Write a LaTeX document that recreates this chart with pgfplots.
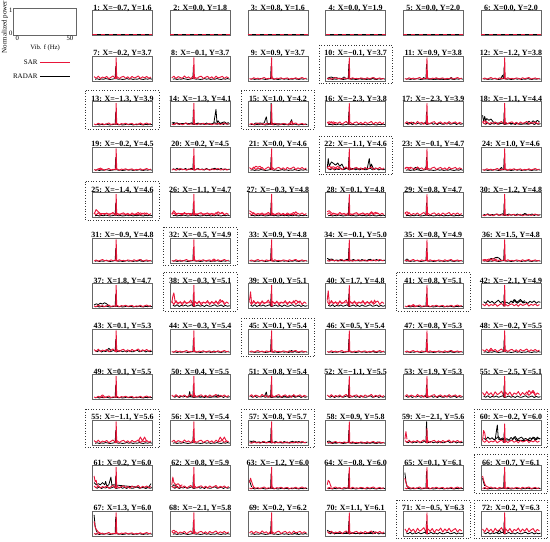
\documentclass[border=0pt]{standalone}
\usepackage{fontspec}
\setmainfont{Liberation Serif}
\usepackage{pgfplots}
\pgfplotsset{compat=1.18}
\definecolor{rcol}{RGB}{232,22,58}
\definecolor{kcol}{RGB}{0,0,0}
% noise floors (x = vibration frequency in Hz, y = normalized power)
\def\RL{(0,.05)(2,.02)(4,.09)(6,.04)(8,.07)(10,.02)(12,.06)(14,.10)(16,.03)(18,.06)(20,.04)(22,.08)(24,.02)(26,.07)(28,.05)(30,.09)(32,.03)(34,.06)(36,.08)(38,.02)(40,.06)(42,.04)(44,.09)(46,.03)(48,.06)(50,.10)(52,.04)(54,.07)}
\def\RLb{(0,.03)(2,.08)(4,.02)(6,.06)(8,.10)(10,.04)(12,.07)(14,.02)(16,.08)(18,.05)(20,.07)(22,.02)(24,.09)(26,.04)(28,.06)(30,.03)(32,.08)(34,.06)(36,.02)(38,.09)(40,.04)(42,.07)(44,.10)(46,.03)(48,.05)(50,.08)(52,.03)(54,.06)}
\def\RM{(0,.14)(2,.06)(4,.16)(6,.05)(8,.12)(10,.08)(12,.15)(14,.04)(16,.11)(18,.17)(20,.06)(22,.13)(24,.05)(26,.12)(28,.15)(30,.06)(32,.13)(34,.04)(36,.15)(38,.08)(40,.11)(42,.17)(44,.05)(46,.13)(48,.08)(50,.15)(52,.06)(54,.12)}
\def\RMb{(0,.08)(2,.16)(4,.05)(6,.14)(8,.1)(10,.06)(12,.17)(14,.08)(16,.13)(18,.04)(20,.15)(22,.1)(24,.06)(26,.13)(28,.16)(30,.05)(32,.11)(34,.15)(36,.06)(38,.13)(40,.04)(42,.16)(44,.08)(46,.11)(48,.15)(50,.06)(52,.13)(54,.08)}
\def\RH{(0,.26)(2,.12)(4,.3)(6,.15)(8,.25)(10,.1)(12,.29)(14,.16)(16,.22)(18,.32)(20,.12)(22,.26)(24,.15)(26,.28)(28,.1)(30,.24)(32,.18)(34,.3)(36,.12)(38,.26)(40,.16)(42,.29)(44,.13)(46,.22)(48,.28)(50,.12)(52,.24)(54,.17)}
\def\KL{(1,.02)(3,.04)(5,.01)(7,.03)(9,.02)(11,.05)(13,.03)(15,.01)(17,.02)(19,.04)(21,.05)(23,.02)(25,.03)(27,.01)(29,.02)(31,.05)(33,.02)(35,.04)(37,.01)(39,.03)(41,.02)(43,.05)(45,.02)(47,.01)(49,.04)(51,.02)(53,.05)(55,.02)}
\def\KM{(1,.09)(3,.04)(5,.11)(7,.03)(9,.08)(11,.05)(13,.1)(15,.04)(17,.07)(19,.11)(21,.03)(23,.06)(25,.1)(27,.04)(29,.08)(31,.03)(33,.1)(35,.05)(37,.04)(39,.08)(41,.11)(43,.04)(45,.06)(47,.1)(49,.03)(51,.08)(53,.04)(55,.07)}
\def\KH{(1,.25)(3,.18)(5,.3)(7,.2)(9,.27)(11,.17)(13,.24)(15,.32)(17,.2)(19,.26)(21,.19)(23,.23)(25,.16)(27,.28)(29,.2)(31,.33)(33,.18)(35,.25)(37,.3)(39,.19)(41,.24)(43,.17)(45,.27)(47,.21)(49,.29)(51,.18)(53,.25)(55,.22)}
\pgfplotsset{pan/.style={anchor=north west, width=60bp, height=25bp, scale only axis,
  xmin=-1.5, xmax=55.5, ymin=-0.07, ymax=1.07, ticks=none,
  axis line style={black!60, line width=0.6bp},
  title style={font=\bfseries\fontsize{8}{8}\selectfont, at={(0.5,1)}, anchor=base, inner sep=0pt, yshift=-5.5bp},
  every axis plot/.append style={line width=0.8bp, line join=round, mark=none}}}
\newcommand\cplot[2]{\edef\tmpcmd{\noexpand\addplot[\unexpanded{#1}] coordinates {#2};}\tmpcmd}
\newcommand\pan[9]{%
\begin{axis}[pan, at={({(92.5+77.7*#1)*1bp},{-(10.7+45.5*#2)*1bp})}, title={#3}]
\cplot{kcol}{#5}%
\def\tmpx{#7}\ifx\tmpx\empty\else\cplot{kcol}{#7}\fi
\cplot{rcol, line width=0.9bp}{#4}%
\def\tmpx{#6}\ifx\tmpx\empty\else\cplot{rcol, line width=0.9bp}{#6}\fi
\addplot[kcol, line width=0.9bp] coordinates {(20.1,.04)(20.6,#9)(21.1,.04)};
\addplot[rcol, line width=0.9bp] coordinates {(20.5,.04)(21,#8)(21.5,.04)};
\end{axis}}
\newcommand\flp[2]{%
\begin{axis}[pan, at={({(92.5+77.7*#1)*1bp},{-10.7bp})}, title={#2}]
\addplot[kcol] coordinates {(-1.5,0)(55.5,0)};
\addplot[rcol, dash pattern=on 4bp off 4bp] coordinates {(-1.5,0)(55.5,0)};
\end{axis}}
\newcommand\dotbox[2]{\draw[dotted, line width=0.7bp, black!80] ({(92.5+77.7*#1-6.7)*1bp},{-(10.7+45.5*#2-11)*1bp}) rectangle ({(92.5+77.7*#1+66.7)*1bp},{-(10.7+45.5*#2+27.5)*1bp});}
\begin{document}
\begin{tikzpicture}
\useasboundingbox (0,0) rectangle (550bp,-542bp);
% key axis
\begin{axis}[at={(13.5bp,-8.3bp)}, anchor=north west, width=63.2bp, height=26.7bp, scale only axis,
  xmin=-3.6, xmax=56.4, ymin=-0.07, ymax=1.07, xtick={0,50}, ytick={0,1}, major tick length=0pt,
  axis line style={black!60, line width=0.6bp},
  /pgf/number format/assume math mode=true,
  tick label style={font=\fontsize{6.7}{7}\selectfont},
  xticklabel style={inner sep=1pt}, yticklabel style={inner sep=0.8pt},
  xlabel={Vib. f (Hz)}, xlabel style={font=\fontsize{6.7}{7}\selectfont, at={(axis description cs:0.5,-0.476)}, anchor=center},
  ylabel={Normalized power}, ylabel style={font=\fontsize{7}{7}\selectfont, at={(axis description cs:-0.135,0.30)}, anchor=center},
  legend plot pos=right, legend cell align=right,
  legend image code/.code={\draw[#1] (0bp,0bp) -- (30bp,0bp);},
  legend style={draw=none, fill=none, at={(axis description cs:0.905,-0.92)}, anchor=north east,
    font=\fontsize{7}{8}\selectfont, row sep=7.5bp, column sep=2bp, inner sep=0pt,
    nodes={inner sep=0pt, text height=5bp, text depth=1bp}}]
\addlegendimage{rcol, line width=1bp}\addlegendentry{SAR}
\addlegendimage{kcol, line width=1bp}\addlegendentry{RADAR}
\end{axis}
% row 1
\flp{0}{1: X=−0.7, Y=1.6}
\flp{1}{2: X=0.0, Y=1.8}
\flp{2}{3: X=0.8, Y=1.6}
\flp{3}{4: X=0.0, Y=1.9}
\flp{4}{5: X=0.0, Y=2.0}
\flp{5}{6: X=0.0, Y=2.0}
% row 2
\pan{0}{1}{7: X=−0.2, Y=3.7}{\RM}{\KL}{}{}{1}{.6}
\pan{1}{1}{8: X=−0.1, Y=3.7}{\RMb}{\KL}{}{}{1}{.6}
\pan{2}{1}{9: X=0.9, Y=3.7}{\RL}{\KL}{}{}{1}{.6}
\pan{3}{1}{10: X=−0.1, Y=3.7}{\RLb}{\KL}{}{(0,.05)(2,.1)(4,.12)(6,.08)(8,.1)(10,.07)(12,.04)(14,.05)(16,.12)(18,.05)(40,.03)(42,.03)(44,.09)(46,.03)}{1}{.7}
\pan{4}{1}{11: X=0.9, Y=3.8}{\RL}{\KL}{}{(16,.02)(18,.1)(19,.03)(42,.02)(44,.1)(46,.02)}{1}{.7}
\pan{5}{1}{12: X=−1.2, Y=3.8}{\RLb}{\KL}{}{(17,.03)(19,.2)(20,.05)}{1}{.6}
% row 3
\pan{0}{2}{13: X=−1.3, Y=3.9}{\RL}{\KL}{(42,.04)(44,.1)(46,.05)}{}{1}{.6}
\pan{1}{2}{14: X=−1.3, Y=4.1}{\RL}{\KM}{}{(0,.1)(2,.12)(4,.08)(38,.05)(40,.1)(42,.72)(43,.08)(44,.2)(46,.06)(48,.12)(50,.15)(52,.08)(54,.12)}{1}{.7}
\pan{2}{2}{15: X=1.0, Y=4.2}{\RLb}{\KL}{(38,.03)(40,.18)(42,.03)}{(4,.04)(6,.1)(8,.06)(10,.1)(12,.08)(14,.1)(16,.38)(17,.08)(38,.04)(40,.25)(41,.05)}{.95}{1}
\pan{3}{2}{16: X=−2.3, Y=3.8}{\RM}{\KL}{(0,.1)(2,.16)(4,.1)(6,.15)(8,.09)}{}{1}{.6}
\pan{4}{2}{17: X=−2.3, Y=3.9}{\RMb}{\KM}{}{(2,.05)(4,.12)(6,.08)(8,.13)(10,.06)}{1}{.6}
\pan{5}{2}{18: X=−1.1, Y=4.4}{\RM}{\KM}{(0,.15)(2,.2)(4,.12)}{(0,.45)(1,.15)(2,.4)(3,.2)(4,.3)(6,.22)(8,.28)(10,.15)(12,.1)(40,.05)(42,.06)(44,.18)(46,.1)(48,.2)(50,.12)(52,.22)(54,.15)}{1}{.6}
% row 4
\pan{0}{3}{19: X=−0.2, Y=4.5}{\RL}{\KL}{(4,.06)(6,.12)(8,.06)}{}{1}{.6}
\pan{1}{3}{20: X=0.2, Y=4.5}{\RLb}{\KM}{}{}{1}{.6}
\pan{2}{3}{21: X=0.0, Y=4.6}{\RM}{\KL}{(4,.1)(6,.2)(8,.16)(10,.2)(12,.1)}{}{1}{.6}
\pan{3}{3}{22: X=−1.1, Y=4.6}{\RM}{\KM}{(0,.15)(2,.2)(4,.15)(6,.18)(8,.12)(10,.2)(12,.12)}{(0,.1)(1,.55)(2,.2)(4,.4)(6,.33)(8,.25)(10,.35)(12,.2)(14,.3)(16,.1)(38,.08)(40,.55)(41,.1)(42,.3)(44,.08)}{1}{.6}
\pan{4}{3}{23: X=−0.1, Y=4.7}{\RMb}{\KL}{(0,.12)(2,.15)(4,.13)(6,.16)}{(8,.05)(10,.15)(12,.12)(14,.05)}{1}{.6}
\pan{5}{3}{24: X=1.0, Y=4.6}{\RL}{\KL}{}{(16,.05)(18,.15)(19,.05)}{1}{.6}
% row 5
\pan{0}{4}{25: X=−1.4, Y=4.6}{\RM}{\KL}{(0,.1)(2,.3)(4,.2)(6,.12)(42,.08)(44,.15)(46,.1)(48,.15)(50,.08)}{}{1}{.6}
\pan{1}{4}{26: X=−1.1, Y=4.7}{\RMb}{\KL}{(0,.1)(2,.25)(4,.12)(42,.1)(44,.2)(46,.12)(48,.18)(50,.08)}{}{1}{.6}
\pan{2}{4}{27: X=−0.3, Y=4.8}{\RM}{\KL}{(0,.25)(2,.18)(4,.1)(42,.08)(44,.2)(46,.1)}{}{1}{.6}
\pan{3}{4}{28: X=0.1, Y=4.8}{\RMb}{\KL}{(0,.2)(2,.25)(4,.15)(6,.1)(40,.1)(42,.2)(44,.12)(46,.18)(48,.1)}{}{1}{.6}
\pan{4}{4}{29: X=0.8, Y=4.7}{\RM}{\KL}{(0,.15)(2,.2)(4,.1)}{}{1}{.6}
\pan{5}{4}{30: X=−1.2, Y=4.8}{\RL}{\KM}{}{(38,.05)(40,.12)(42,.05)}{1}{.6}
% row 6
\pan{0}{5}{31: X=−0.9, Y=4.8}{\RLb}{\KL}{}{(42,.04)(44,.1)(46,.04)}{1}{.6}
\pan{1}{5}{32: X=−0.5, Y=4.9}{\RL}{\KL}{(38,.05)(40,.12)(42,.05)}{}{1}{.6}
\pan{2}{5}{33: X=0.9, Y=4.8}{\RLb}{\KL}{}{}{1}{.6}
\pan{3}{5}{34: X=−0.1, Y=5.0}{\RL}{\KM}{}{(0,.15)(2,.1)(4,.12)(6,.05)(38,.04)(40,.1)(42,.04)}{1}{.6}
\pan{4}{5}{35: X=0.8, Y=4.9}{\RLb}{\KL}{}{(0,.05)(2,.12)(4,.05)}{1}{.6}
\pan{5}{5}{36: X=1.5, Y=4.8}{\RLb}{\KL}{(0,.08)(2,.1)(4,.08)(6,.12)(8,.1)(10,.14)(12,.1)(14,.12)}{(6,.05)(8,.15)(10,.12)(12,.18)(14,.2)(16,.15)(18,.05)}{1}{.6}
% row 7
\pan{0}{6}{37: X=1.8, Y=4.7}{\RL}{\KL}{}{(0,.1)(2,.15)(4,.12)(6,.18)(8,.14)(10,.2)(12,.15)(14,.05)}{1}{.6}
\pan{1}{6}{38: X=−0.3, Y=5.1}{\RH}{\KM}{(0,.2)(1,.5)(2,.65)(3,.3)(4,.2)(44,.2)(46,.35)(47,.25)(48,.3)(50,.2)}{}{1}{.6}
\pan{2}{6}{39: X=0.0, Y=5.1}{\RH}{\KM}{(0,.3)(1,.7)(2,.2)(42,.2)(44,.32)(46,.25)(48,.18)}{}{1}{.6}
\pan{3}{6}{40: X=1.7, Y=4.8}{\RH}{\KM}{(0,.3)(1,.75)(2,.2)(44,.2)(45,.32)(46,.22)}{}{1}{.6}
\pan{4}{6}{41: X=0.8, Y=5.1}{\RL}{\KL}{(6,.05)(8,.12)(10,.05)}{}{1}{.6}
\pan{5}{6}{42: X=−2.1, Y=4.9}{\RM}{\KH}{}{(28,.2)(30,.35)(32,.2)(36,.35)(38,.2)(40,.3)}{1}{.6}
% row 8
\pan{0}{7}{43: X=0.1, Y=5.3}{\RM}{\KM}{}{(12,.08)(14,.2)(16,.1)}{1}{.6}
\pan{1}{7}{44: X=−0.3, Y=5.4}{\RL}{\KL}{}{(38,.03)(40,.08)(42,.03)}{1}{.6}
\pan{2}{7}{45: X=0.1, Y=5.4}{\RLb}{\KL}{}{(38,.03)(40,.1)(42,.03)}{1}{.6}
\pan{3}{7}{46: X=0.5, Y=5.4}{\RL}{\KL}{}{(42,.03)(44,.08)(46,.03)}{1}{.6}
\pan{4}{7}{47: X=0.8, Y=5.3}{\RLb}{\KL}{}{(42,.03)(44,.1)(46,.03)}{1}{.6}
\pan{5}{7}{48: X=−0.2, Y=5.5}{\RM}{\KL}{(6,.08)(8,.2)(10,.08)}{}{1}{.6}
% row 9
\pan{0}{8}{49: X=0.1, Y=5.5}{\RL}{\KL}{(6,.06)(8,.15)(10,.06)}{}{1}{.6}
\pan{1}{8}{50: X=0.4, Y=5.5}{\RM}{\KM}{}{(16,.05)(17,.3)(18,.05)(42,.05)(44,.15)(46,.05)}{1}{.6}
\pan{2}{8}{51: X=0.8, Y=5.4}{\RMb}{\KM}{}{(14,.05)(16,.28)(17,.05)(40,.05)(42,.12)(44,.05)}{1}{.6}
\pan{3}{8}{52: X=−1.1, Y=5.5}{\RM}{\KM}{}{}{1}{.6}
\pan{4}{8}{53: X=1.9, Y=5.3}{\RMb}{\KM}{}{}{1}{.6}
\pan{5}{8}{55: X=−2.5, Y=5.1}{\RH}{\KM}{(42,.15)(44,.35)(46,.25)(48,.35)(50,.2)}{}{1}{.6}
% row 10
\pan{0}{9}{55: X=−1.1, Y=5.6}{\RM}{\KL}{(42,.1)(44,.3)(46,.12)(48,.3)(50,.1)}{}{1}{.6}
\pan{1}{9}{56: X=1.9, Y=5.4}{\RMb}{\KL}{(44,.1)(46,.3)(48,.15)(50,.3)(52,.1)}{}{1}{.6}
\pan{2}{9}{57: X=0.8, Y=5.7}{\RL}{\KM}{}{(0,.12)(2,.1)(4,.12)(6,.06)(42,.04)(44,.1)(46,.04)}{1}{.7}
\pan{3}{9}{58: X=0.9, Y=5.8}{\RLb}{\KL}{}{(0,.1)(2,.12)(4,.06)(46,.04)(48,.08)(50,.04)}{1}{.6}
\pan{4}{9}{59: X=−2.1, Y=5.6}{\RM}{\KM}{(0,.2)(1,.55)(2,.2)}{}{.7}{1}
\pan{5}{9}{60: X=−0.2, Y=6.0}{\RM}{\KH}{(0,.15)(1,.6)(2,.5)(3,.2)}{(12,.2)(14,.85)(15,.2)(28,.15)(30,.3)(32,.15)(46,.15)(48,.3)(50,.15)(52,.3)(54,.2)}{.9}{.5}
% row 11
\pan{0}{10}{61: X=0.2, Y=6.0}{\RM}{\KM}{(0,.6)(1,.35)(2,.4)(3,.15)}{(0,.3)(2,.2)(4,.25)(6,.2)(8,.3)(10,.2)(11,.35)(12,.15)(14,.2)(16,.55)(17,.15)(18,.2)(50,.05)(52,.1)(54,.25)}{1}{.6}
\pan{1}{10}{62: X=0.8, Y=5.9}{\RM}{\KM}{(0,.2)(1,.55)(2,.3)(4,.2)(6,.25)(8,.15)(10,.2)}{(0,.1)(2,.2)(4,.15)(6,.1)}{1}{.6}
\pan{2}{10}{63: X=−1.2, Y=6.0}{\RL}{\KL}{(0,.3)(1,.5)(2,.35)(3,.2)(4,.1)}{(0,.4)(1,.25)(2,.1)}{1}{.7}
\pan{3}{10}{64: X=−0.8, Y=6.0}{\RLb}{\KL}{(0,.2)(1,.4)(2,.35)(3,.2)(4,.08)}{}{1}{.7}
\pan{4}{10}{65: X=0.1, Y=6.1}{\RL}{\KL}{(0,.5)(1,.3)(2,.15)(4,.08)}{(0,.75)(1,.35)(2,.12)(4,.05)}{1}{.8}
\pan{5}{10}{66: X=0.7, Y=6.1}{\RLb}{\KL}{(0,.6)(1,.4)(2,.25)(3,.15)(4,.12)(6,.08)}{(0,.5)(1,.3)(2,.15)}{1}{.7}
% row 12
\pan{0}{11}{67: X=1.3, Y=6.0}{\RL}{\KL}{(0,.6)(1,.35)(2,.25)(4,.12)(6,.08)}{(0,.9)(1,.4)(2,.2)(3,.1)}{1}{.8}
\pan{1}{11}{68: X=−2.1, Y=5.8}{\RM}{\KL}{(0,.15)(2,.2)(4,.12)}{}{1}{.6}
\pan{2}{11}{69: X=0.2, Y=6.2}{\RMb}{\KL}{}{(42,.04)(44,.1)(46,.04)}{1}{.6}
\pan{3}{11}{70: X=1.1, Y=6.1}{\RM}{\KM}{}{(0,.2)(2,.15)(4,.12)(6,.06)(42,.05)(44,.15)(46,.05)}{1}{.6}
\pan{4}{11}{71: X=−0.5, Y=6.3}{\RH}{\KM}{}{}{1}{.6}
\pan{5}{11}{72: X=0.2, Y=6.3}{\RH}{\KM}{}{(14,.08)(16,.2)(18,.08)}{1}{.6}
% dotted frames
\dotbox{3}{1}\dotbox{0}{2}\dotbox{2}{2}\dotbox{3}{3}\dotbox{0}{4}\dotbox{1}{5}
\dotbox{1}{6}\dotbox{4}{6}\dotbox{2}{7}\dotbox{0}{9}\dotbox{2}{9}\dotbox{5}{9}
\dotbox{5}{10}\dotbox{4}{11}\dotbox{5}{11}
\end{tikzpicture}
\end{document}
